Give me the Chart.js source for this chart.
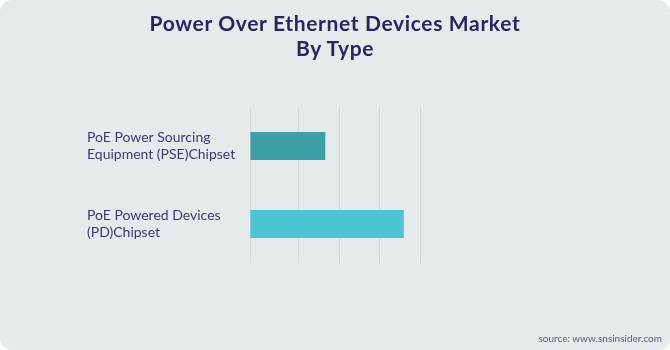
<!DOCTYPE html>
<html>
<head>
<meta charset="utf-8">
<script src="https://cdn.jsdelivr.net/npm/chart.js@4.4.1/dist/chart.umd.min.js"></script>
<style>
    html, body { margin: 0; padding: 0; background: #ffffff; }
    .card {
        position: relative;
        width: 670px;
        height: 350px;
        background: #e4ebea;
        border-radius: 12px;
        overflow: hidden;
    }
    .title {
        position: absolute;
        top: 10px;
        left: 0;
        width: 670px;
        text-align: center;
        font-family: 'Lato', sans-serif;
        font-weight: bold;
        font-size: 21px;
        line-height: 25px;
        letter-spacing: 0.65px;
        color: #2a2561;
    }
    .source {
        position: absolute;
        right: 8px;
        bottom: 6px;
        font-family: 'Lato', sans-serif;
        font-size: 10px;
        color: #5b5a86;
    }
    canvas { position: absolute; left: 0; top: 0; }
</style>
</head>
<body>
<div class="card">
    <canvas id="typeChart" width="670" height="350"></canvas>
    <div class="title">Power Over Ethernet Devices Market<br>By Type</div>
    <div class="source">source: www.snsinsider.com</div>
</div>
<script>
// chart data
const categories = [
    ['PoE Power Sourcing', 'Equipment (PSE)Chipset'],
    ['PoE Powered Devices', '(PD)Chipset']
];
const marketValues = [1.86, 3.8];
const barColors = ['#3e9fa7', '#4dc4d3'];
const gridTicks = [0, 1.2, 2.2, 3.2, 4.2];

new Chart(document.getElementById('typeChart'), {
    type: 'bar',
    data: {
        labels: categories,
        datasets: [{
            data: marketValues,
            backgroundColor: barColors,
            borderWidth: 0,
            barPercentage: 0.36,
            categoryPercentage: 1
        }]
    },
    options: {
        indexAxis: 'y',
        responsive: false,
        animation: false,
        layout: {
            padding: { left: 87, right: 250, top: 107, bottom: 87 }
        },
        plugins: {
            legend: { display: false },
            tooltip: { enabled: false }
        },
        scales: {
            x: {
                min: 0,
                max: 4.2,
                afterBuildTicks: scale => {
                    scale.ticks = gridTicks.map(v => ({ value: v }));
                },
                ticks: { display: false },
                grid: { color: '#d3d9da', lineWidth: 1, drawTicks: false },
                border: { display: false }
            },
            y: {
                afterFit: scale => { scale.width = 163; },
                ticks: {
                    crossAlign: 'far',
                    color: '#3d3a7a',
                    font: { family: 'Lato', size: 14 }
                },
                grid: { display: false },
                border: { display: false }
            }
        }
    }
});
</script>
</body>
</html>
